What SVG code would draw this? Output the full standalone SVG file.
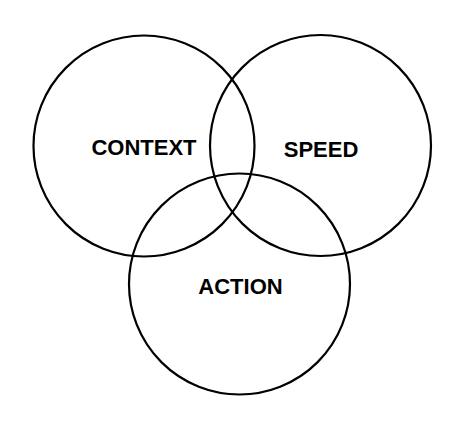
<svg xmlns="http://www.w3.org/2000/svg" width="474" height="424" viewBox="0 0 474 424">
<style>
.c{fill:none;stroke:#000;stroke-width:2.2}
.t{font-family:"Liberation Sans",Arial,sans-serif;font-weight:bold;font-size:22px;fill:#000;text-anchor:middle}
</style>
<rect width="474" height="424" fill="#fff"/>
<g id="context"><circle class="c" cx="144" cy="146" r="110.5"/><text class="t" x="144" y="155">CONTEXT</text></g>
<g id="speed"><circle class="c" cx="320.5" cy="145.5" r="110.5"/><text class="t" x="321" y="156.5">SPEED</text></g>
<g id="action"><circle class="c" cx="239.5" cy="284" r="110.5"/><text class="t" x="240.5" y="294">ACTION</text></g>
<g id="connectors"></g>
</svg>
